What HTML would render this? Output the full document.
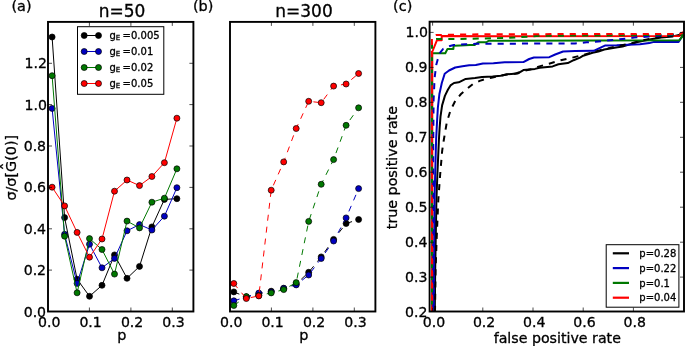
<!DOCTYPE html>
<html><head><meta charset="utf-8"><title>figure</title>
<style>html,body{margin:0;padding:0;background:#fff}svg{display:block}text{stroke:#000;stroke-width:0.3px}</style></head>
<body>
<svg width="685" height="346" viewBox="0 0 685 346" font-family='"DejaVu Sans","Liberation Sans",sans-serif' fill="#000">
<rect width="685" height="346" fill="#fff"/>
<clipPath id="ca"><rect x="48.0" y="21.9" width="145.4" height="289.6"/></clipPath>
<g clip-path="url(#ca)">
<polyline points="52.1,37.0 64.6,217.6 77.1,279.2 89.5,296.3 102.0,285.3 114.5,254.9 127.0,278.3 139.5,266.4 151.9,226.9 164.4,199.4 176.9,198.7" fill="none" stroke="#000000" stroke-width="1"/>
<circle cx="52.1" cy="37.0" r="3.0" fill="#000000" stroke="#000" stroke-width="0.7"/>
<circle cx="64.6" cy="217.6" r="3.0" fill="#000000" stroke="#000" stroke-width="0.7"/>
<circle cx="77.1" cy="279.2" r="3.0" fill="#000000" stroke="#000" stroke-width="0.7"/>
<circle cx="89.5" cy="296.3" r="3.0" fill="#000000" stroke="#000" stroke-width="0.7"/>
<circle cx="102.0" cy="285.3" r="3.0" fill="#000000" stroke="#000" stroke-width="0.7"/>
<circle cx="114.5" cy="254.9" r="3.0" fill="#000000" stroke="#000" stroke-width="0.7"/>
<circle cx="127.0" cy="278.3" r="3.0" fill="#000000" stroke="#000" stroke-width="0.7"/>
<circle cx="139.5" cy="266.4" r="3.0" fill="#000000" stroke="#000" stroke-width="0.7"/>
<circle cx="151.9" cy="226.9" r="3.0" fill="#000000" stroke="#000" stroke-width="0.7"/>
<circle cx="164.4" cy="199.4" r="3.0" fill="#000000" stroke="#000" stroke-width="0.7"/>
<circle cx="176.9" cy="198.7" r="3.0" fill="#000000" stroke="#000" stroke-width="0.7"/>
<polyline points="52.1,108.4 64.6,234.3 77.1,283.4 89.5,244.2 102.0,267.8 114.5,258.4 127.0,230.8 139.5,224.6 151.9,230.0 164.4,216.2 176.9,187.7" fill="none" stroke="#0000c0" stroke-width="1"/>
<circle cx="52.1" cy="108.4" r="3.0" fill="#0000c0" stroke="#000" stroke-width="0.7"/>
<circle cx="64.6" cy="234.3" r="3.0" fill="#0000c0" stroke="#000" stroke-width="0.7"/>
<circle cx="77.1" cy="283.4" r="3.0" fill="#0000c0" stroke="#000" stroke-width="0.7"/>
<circle cx="89.5" cy="244.2" r="3.0" fill="#0000c0" stroke="#000" stroke-width="0.7"/>
<circle cx="102.0" cy="267.8" r="3.0" fill="#0000c0" stroke="#000" stroke-width="0.7"/>
<circle cx="114.5" cy="258.4" r="3.0" fill="#0000c0" stroke="#000" stroke-width="0.7"/>
<circle cx="127.0" cy="230.8" r="3.0" fill="#0000c0" stroke="#000" stroke-width="0.7"/>
<circle cx="139.5" cy="224.6" r="3.0" fill="#0000c0" stroke="#000" stroke-width="0.7"/>
<circle cx="151.9" cy="230.0" r="3.0" fill="#0000c0" stroke="#000" stroke-width="0.7"/>
<circle cx="164.4" cy="216.2" r="3.0" fill="#0000c0" stroke="#000" stroke-width="0.7"/>
<circle cx="176.9" cy="187.7" r="3.0" fill="#0000c0" stroke="#000" stroke-width="0.7"/>
<polyline points="52.1,75.7 64.6,236.2 77.1,292.8 89.5,238.6 102.0,249.5 114.5,274.1 127.0,221.1 139.5,227.9 151.9,202.2 164.4,198.2 176.9,168.8" fill="none" stroke="#007800" stroke-width="1"/>
<circle cx="52.1" cy="75.7" r="3.0" fill="#007800" stroke="#000" stroke-width="0.7"/>
<circle cx="64.6" cy="236.2" r="3.0" fill="#007800" stroke="#000" stroke-width="0.7"/>
<circle cx="77.1" cy="292.8" r="3.0" fill="#007800" stroke="#000" stroke-width="0.7"/>
<circle cx="89.5" cy="238.6" r="3.0" fill="#007800" stroke="#000" stroke-width="0.7"/>
<circle cx="102.0" cy="249.5" r="3.0" fill="#007800" stroke="#000" stroke-width="0.7"/>
<circle cx="114.5" cy="274.1" r="3.0" fill="#007800" stroke="#000" stroke-width="0.7"/>
<circle cx="127.0" cy="221.1" r="3.0" fill="#007800" stroke="#000" stroke-width="0.7"/>
<circle cx="139.5" cy="227.9" r="3.0" fill="#007800" stroke="#000" stroke-width="0.7"/>
<circle cx="151.9" cy="202.2" r="3.0" fill="#007800" stroke="#000" stroke-width="0.7"/>
<circle cx="164.4" cy="198.2" r="3.0" fill="#007800" stroke="#000" stroke-width="0.7"/>
<circle cx="176.9" cy="168.8" r="3.0" fill="#007800" stroke="#000" stroke-width="0.7"/>
<polyline points="52.1,187.2 64.6,205.9 77.1,232.4 89.5,257.2 102.0,239.0 114.5,191.2 127.0,180.0 139.5,185.6 151.9,176.5 164.4,162.7 176.9,118.2" fill="none" stroke="#ff0000" stroke-width="1"/>
<circle cx="52.1" cy="187.2" r="3.0" fill="#ff0000" stroke="#000" stroke-width="0.7"/>
<circle cx="64.6" cy="205.9" r="3.0" fill="#ff0000" stroke="#000" stroke-width="0.7"/>
<circle cx="77.1" cy="232.4" r="3.0" fill="#ff0000" stroke="#000" stroke-width="0.7"/>
<circle cx="89.5" cy="257.2" r="3.0" fill="#ff0000" stroke="#000" stroke-width="0.7"/>
<circle cx="102.0" cy="239.0" r="3.0" fill="#ff0000" stroke="#000" stroke-width="0.7"/>
<circle cx="114.5" cy="191.2" r="3.0" fill="#ff0000" stroke="#000" stroke-width="0.7"/>
<circle cx="127.0" cy="180.0" r="3.0" fill="#ff0000" stroke="#000" stroke-width="0.7"/>
<circle cx="139.5" cy="185.6" r="3.0" fill="#ff0000" stroke="#000" stroke-width="0.7"/>
<circle cx="151.9" cy="176.5" r="3.0" fill="#ff0000" stroke="#000" stroke-width="0.7"/>
<circle cx="164.4" cy="162.7" r="3.0" fill="#ff0000" stroke="#000" stroke-width="0.7"/>
<circle cx="176.9" cy="118.2" r="3.0" fill="#ff0000" stroke="#000" stroke-width="0.7"/>
</g>
<path d="M89.4 311.5v-4.0M89.4 21.9v4.0" stroke="#000" stroke-width="0.7"/>
<path d="M130.9 311.5v-4.0M130.9 21.9v4.0" stroke="#000" stroke-width="0.7"/>
<path d="M172.3 311.5v-4.0M172.3 21.9v4.0" stroke="#000" stroke-width="0.7"/>
<path d="M48.0 270.1h4.0M193.4 270.1h-4.0" stroke="#000" stroke-width="0.7"/>
<path d="M48.0 228.8h4.0M193.4 228.8h-4.0" stroke="#000" stroke-width="0.7"/>
<path d="M48.0 187.4h4.0M193.4 187.4h-4.0" stroke="#000" stroke-width="0.7"/>
<path d="M48.0 146.0h4.0M193.4 146.0h-4.0" stroke="#000" stroke-width="0.7"/>
<path d="M48.0 104.6h4.0M193.4 104.6h-4.0" stroke="#000" stroke-width="0.7"/>
<path d="M48.0 63.3h4.0M193.4 63.3h-4.0" stroke="#000" stroke-width="0.7"/>
<rect x="48.0" y="21.9" width="145.4" height="289.6" fill="none" stroke="#000" stroke-width="1.9"/>
<text x="49.2" y="327.0" font-size="14.1" text-anchor="middle" >0.0</text>
<text x="90.6" y="327.0" font-size="14.1" text-anchor="middle" >0.1</text>
<text x="132.1" y="327.0" font-size="14.1" text-anchor="middle" >0.2</text>
<text x="173.5" y="327.0" font-size="14.1" text-anchor="middle" >0.3</text>
<text x="46.1" y="316.5" font-size="14.1" text-anchor="end" >0.0</text>
<text x="46.1" y="275.1" font-size="14.1" text-anchor="end" >0.2</text>
<text x="46.1" y="233.8" font-size="14.1" text-anchor="end" >0.4</text>
<text x="46.1" y="192.4" font-size="14.1" text-anchor="end" >0.6</text>
<text x="46.1" y="151.0" font-size="14.1" text-anchor="end" >0.8</text>
<text x="46.9" y="109.6" font-size="14.1" text-anchor="end" >1.0</text>
<text x="46.9" y="68.3" font-size="14.1" text-anchor="end" >1.2</text>
<text x="122.0" y="17.1" font-size="17" text-anchor="middle" >n=50</text>
<text x="121.7" y="340.1" font-size="14.4" text-anchor="middle" >p</text>
<text x="21.5" y="11.0" font-size="14.4" text-anchor="middle" >(a)</text>
<text transform="translate(16.0,167.7) rotate(-90)" font-size="14.4" text-anchor="middle">σ/σ[G<tspan dx="-9.77" dy="-3.4" font-size="16">ˆ</tspan><tspan dx="1.77" dy="3.4">(0)]</tspan></text>
<rect x="77.5" y="26.7" width="86.3" height="67.6" fill="#fff" stroke="#000" stroke-width="1"/>
<path d="M84.2 35.5H98.5" stroke="#000000" stroke-width="1"/>
<circle cx="84.2" cy="35.5" r="3.0" fill="#000000" stroke="#000" stroke-width="0.7"/>
<circle cx="98.5" cy="35.5" r="3.0" fill="#000000" stroke="#000" stroke-width="0.7"/>
<text x="109.5" y="38.8" font-size="10">g<tspan font-size="7" dy="1.4">E</tspan><tspan dy="-1.4" dx="2.3">=</tspan>0.005</text>
<path d="M84.2 51.5H98.5" stroke="#0000c0" stroke-width="1"/>
<circle cx="84.2" cy="51.5" r="3.0" fill="#0000c0" stroke="#000" stroke-width="0.7"/>
<circle cx="98.5" cy="51.5" r="3.0" fill="#0000c0" stroke="#000" stroke-width="0.7"/>
<text x="109.5" y="54.8" font-size="10">g<tspan font-size="7" dy="1.4">E</tspan><tspan dy="-1.4" dx="2.3">=</tspan>0.01</text>
<path d="M84.2 67.5H98.5" stroke="#007800" stroke-width="1"/>
<circle cx="84.2" cy="67.5" r="3.0" fill="#007800" stroke="#000" stroke-width="0.7"/>
<circle cx="98.5" cy="67.5" r="3.0" fill="#007800" stroke="#000" stroke-width="0.7"/>
<text x="109.5" y="70.8" font-size="10">g<tspan font-size="7" dy="1.4">E</tspan><tspan dy="-1.4" dx="2.3">=</tspan>0.02</text>
<path d="M84.2 83.5H98.5" stroke="#ff0000" stroke-width="1"/>
<circle cx="84.2" cy="83.5" r="3.0" fill="#ff0000" stroke="#000" stroke-width="0.7"/>
<circle cx="98.5" cy="83.5" r="3.0" fill="#ff0000" stroke="#000" stroke-width="0.7"/>
<text x="109.5" y="86.8" font-size="10">g<tspan font-size="7" dy="1.4">E</tspan><tspan dy="-1.4" dx="2.3">=</tspan>0.05</text>
<clipPath id="cb"><rect x="230.0" y="21.9" width="145.4" height="289.6"/></clipPath>
<g clip-path="url(#cb)">
<polyline points="233.8,291.9 246.3,297.0 258.8,294.0 271.2,291.2 283.7,288.5 296.2,284.0 308.7,272.3 321.2,256.9 333.6,239.4 346.1,223.5 358.6,219.5" fill="none" stroke="#000000" stroke-width="1" stroke-dasharray="6 6"/>
<circle cx="233.8" cy="291.9" r="3.0" fill="#000000" stroke="#000" stroke-width="0.7"/>
<circle cx="246.3" cy="297.0" r="3.0" fill="#000000" stroke="#000" stroke-width="0.7"/>
<circle cx="258.8" cy="294.0" r="3.0" fill="#000000" stroke="#000" stroke-width="0.7"/>
<circle cx="271.2" cy="291.2" r="3.0" fill="#000000" stroke="#000" stroke-width="0.7"/>
<circle cx="283.7" cy="288.5" r="3.0" fill="#000000" stroke="#000" stroke-width="0.7"/>
<circle cx="296.2" cy="284.0" r="3.0" fill="#000000" stroke="#000" stroke-width="0.7"/>
<circle cx="308.7" cy="272.3" r="3.0" fill="#000000" stroke="#000" stroke-width="0.7"/>
<circle cx="321.2" cy="256.9" r="3.0" fill="#000000" stroke="#000" stroke-width="0.7"/>
<circle cx="333.6" cy="239.4" r="3.0" fill="#000000" stroke="#000" stroke-width="0.7"/>
<circle cx="346.1" cy="223.5" r="3.0" fill="#000000" stroke="#000" stroke-width="0.7"/>
<circle cx="358.6" cy="219.5" r="3.0" fill="#000000" stroke="#000" stroke-width="0.7"/>
<polyline points="233.8,300.8 246.3,297.0 258.8,293.1 271.2,291.9 283.7,288.2 296.2,284.9 308.7,275.0 321.2,258.5 333.6,241.0 346.1,217.9 358.6,188.6" fill="none" stroke="#0000c0" stroke-width="1" stroke-dasharray="6 6"/>
<circle cx="233.8" cy="300.8" r="3.0" fill="#0000c0" stroke="#000" stroke-width="0.7"/>
<circle cx="246.3" cy="297.0" r="3.0" fill="#0000c0" stroke="#000" stroke-width="0.7"/>
<circle cx="258.8" cy="293.1" r="3.0" fill="#0000c0" stroke="#000" stroke-width="0.7"/>
<circle cx="271.2" cy="291.9" r="3.0" fill="#0000c0" stroke="#000" stroke-width="0.7"/>
<circle cx="283.7" cy="288.2" r="3.0" fill="#0000c0" stroke="#000" stroke-width="0.7"/>
<circle cx="296.2" cy="284.9" r="3.0" fill="#0000c0" stroke="#000" stroke-width="0.7"/>
<circle cx="308.7" cy="275.0" r="3.0" fill="#0000c0" stroke="#000" stroke-width="0.7"/>
<circle cx="321.2" cy="258.5" r="3.0" fill="#0000c0" stroke="#000" stroke-width="0.7"/>
<circle cx="333.6" cy="241.0" r="3.0" fill="#0000c0" stroke="#000" stroke-width="0.7"/>
<circle cx="346.1" cy="217.9" r="3.0" fill="#0000c0" stroke="#000" stroke-width="0.7"/>
<circle cx="358.6" cy="188.6" r="3.0" fill="#0000c0" stroke="#000" stroke-width="0.7"/>
<polyline points="233.8,305.5 246.3,296.6 258.8,295.5 271.2,292.9 283.7,289.6 296.2,282.6 308.7,221.4 321.2,184.3 333.6,159.6 346.1,125.3 358.6,107.8" fill="none" stroke="#007800" stroke-width="1" stroke-dasharray="6 6"/>
<circle cx="233.8" cy="305.5" r="3.0" fill="#007800" stroke="#000" stroke-width="0.7"/>
<circle cx="246.3" cy="296.6" r="3.0" fill="#007800" stroke="#000" stroke-width="0.7"/>
<circle cx="258.8" cy="295.5" r="3.0" fill="#007800" stroke="#000" stroke-width="0.7"/>
<circle cx="271.2" cy="292.9" r="3.0" fill="#007800" stroke="#000" stroke-width="0.7"/>
<circle cx="283.7" cy="289.6" r="3.0" fill="#007800" stroke="#000" stroke-width="0.7"/>
<circle cx="296.2" cy="282.6" r="3.0" fill="#007800" stroke="#000" stroke-width="0.7"/>
<circle cx="308.7" cy="221.4" r="3.0" fill="#007800" stroke="#000" stroke-width="0.7"/>
<circle cx="321.2" cy="184.3" r="3.0" fill="#007800" stroke="#000" stroke-width="0.7"/>
<circle cx="333.6" cy="159.6" r="3.0" fill="#007800" stroke="#000" stroke-width="0.7"/>
<circle cx="346.1" cy="125.3" r="3.0" fill="#007800" stroke="#000" stroke-width="0.7"/>
<circle cx="358.6" cy="107.8" r="3.0" fill="#007800" stroke="#000" stroke-width="0.7"/>
<polyline points="233.8,283.5 246.3,298.5 258.8,295.9 271.2,190.2 283.7,161.9 296.2,128.5 308.7,101.3 321.2,102.7 333.6,86.1 346.1,84.0 358.6,73.5" fill="none" stroke="#ff0000" stroke-width="1" stroke-dasharray="6 6"/>
<circle cx="233.8" cy="283.5" r="3.0" fill="#ff0000" stroke="#000" stroke-width="0.7"/>
<circle cx="246.3" cy="298.5" r="3.0" fill="#ff0000" stroke="#000" stroke-width="0.7"/>
<circle cx="258.8" cy="295.9" r="3.0" fill="#ff0000" stroke="#000" stroke-width="0.7"/>
<circle cx="271.2" cy="190.2" r="3.0" fill="#ff0000" stroke="#000" stroke-width="0.7"/>
<circle cx="283.7" cy="161.9" r="3.0" fill="#ff0000" stroke="#000" stroke-width="0.7"/>
<circle cx="296.2" cy="128.5" r="3.0" fill="#ff0000" stroke="#000" stroke-width="0.7"/>
<circle cx="308.7" cy="101.3" r="3.0" fill="#ff0000" stroke="#000" stroke-width="0.7"/>
<circle cx="321.2" cy="102.7" r="3.0" fill="#ff0000" stroke="#000" stroke-width="0.7"/>
<circle cx="333.6" cy="86.1" r="3.0" fill="#ff0000" stroke="#000" stroke-width="0.7"/>
<circle cx="346.1" cy="84.0" r="3.0" fill="#ff0000" stroke="#000" stroke-width="0.7"/>
<circle cx="358.6" cy="73.5" r="3.0" fill="#ff0000" stroke="#000" stroke-width="0.7"/>
</g>
<path d="M271.4 311.5v-4.0M271.4 21.9v4.0" stroke="#000" stroke-width="0.7"/>
<path d="M312.9 311.5v-4.0M312.9 21.9v4.0" stroke="#000" stroke-width="0.7"/>
<path d="M354.3 311.5v-4.0M354.3 21.9v4.0" stroke="#000" stroke-width="0.7"/>
<rect x="230.0" y="21.9" width="145.4" height="289.6" fill="none" stroke="#000" stroke-width="1.9"/>
<text x="231.2" y="327.0" font-size="14.1" text-anchor="middle" >0.0</text>
<text x="272.6" y="327.0" font-size="14.1" text-anchor="middle" >0.1</text>
<text x="314.1" y="327.0" font-size="14.1" text-anchor="middle" >0.2</text>
<text x="355.5" y="327.0" font-size="14.1" text-anchor="middle" >0.3</text>
<text x="304.0" y="17.1" font-size="17" text-anchor="middle" >n=300</text>
<text x="303.7" y="340.1" font-size="14.4" text-anchor="middle" >p</text>
<text x="203.2" y="11.0" font-size="14.4" text-anchor="middle" >(b)</text>
<clipPath id="cc"><rect x="429.6" y="21.7" width="255.39999999999998" height="289.8"/></clipPath>
<g clip-path="url(#cc)" fill="none" stroke-width="2.0" stroke-linejoin="round">
<polyline points="434.8,312.0 435.2,270.0 436.4,200.0 437.4,174.0 438.9,140.0 439.6,128.1 440.5,116.7 442.1,105.4 444.9,95.9 448.0,89.5 450.5,85.4 454.0,83.0 458.7,82.3 465.7,78.9 475.0,78.1 482.0,77.0 492.6,76.6 500.7,75.8 507.0,74.2 517.5,73.6 523.4,70.1 535.0,68.9 539.7,67.8 552.6,66.4 558.4,64.3 567.8,63.1 573.6,60.2 580.0,57.6 583.2,55.7 592.6,52.8 598.4,51.6 604.3,49.5 616.0,47.5 622.5,46.6 636.5,42.3 649.4,39.6 661.0,37.6 672.8,36.4 683.0,34.0" stroke="#000000"/>
<polyline points="433.8,312.0 434.0,270.0 434.5,200.0 436.1,140.0 437.0,122.4 437.9,107.3 439.4,94.0 441.8,83.0 444.7,73.7 449.0,70.5 455.2,67.5 462.5,66.2 469.2,65.3 475.8,65.0 482.9,63.4 493.4,63.2 504.7,62.3 523.4,62.1 529.2,59.0 533.9,57.5 549.3,57.2 555.2,54.5 563.1,51.5 575.0,51.0 593.7,50.8 598.4,48.7 605.4,45.4 616.7,45.3 640.0,44.3 649.4,43.1 654.0,41.9 678.6,41.9 683.0,35.0" stroke="#0000c0"/>
<polyline points="432.1,312.0 432.1,53.3 445.3,53.3 447.5,48.9 453.4,48.9 453.6,45.7 460.3,45.5 470.0,45.0 474.7,45.0 478.2,42.3 486.4,42.3 488.7,40.7 600.0,40.6 679.2,40.3 684.0,34.5" stroke="#007800"/>
<polyline points="432.2,312.0 432.2,52.0 433.0,50.0 437.0,40.2 441.7,40.2 441.7,36.1 500.0,36.3 679.2,36.1 683.5,32.8" stroke="#ff0000"/>
<polyline points="435.0,312.0 435.6,270.0 436.6,240.0 438.3,200.0 440.2,174.0 442.2,150.6 443.8,140.0 446.8,122.4 450.6,110.1 455.4,100.6 461.0,94.0 469.2,87.1 472.7,84.2 479.7,80.9 484.4,79.3 491.4,77.8 498.4,76.0 507.0,74.6 514.8,73.7 523.0,71.2 531.0,69.2 538.6,66.6 549.0,63.7 560.7,60.2 572.4,57.6 583.0,55.0 593.0,52.2 604.0,49.2 616.0,46.6 631.0,43.4 643.0,40.2 655.0,37.8 666.0,36.4 676.0,35.6 683.0,34.0" stroke="#000000" stroke-dasharray="6.09 6.09" stroke-dashoffset="12.09"/>
<polyline points="433.2,312.0 433.2,150.0 433.6,100.0 434.6,78.0 436.2,65.0 437.7,59.5 439.5,53.3 443.2,48.9 450.0,45.9 453.7,45.1 465.4,44.3 476.0,43.8 500.0,43.7 575.0,43.4 586.7,42.3 598.4,41.4 610.0,40.3 622.5,39.0 634.2,37.6 645.9,36.7 657.6,35.7 670.4,35.2 683.0,33.0" stroke="#0000c0" stroke-dasharray="6.09 6.09" stroke-dashoffset="8.66"/>
<polyline points="432.0,312.0 432.0,42.0 433.0,40.0 436.2,39.1 470.0,38.8 510.0,37.8 540.0,35.8 620.0,35.3 683.0,34.5" stroke="#007800" stroke-dasharray="6.09 6.09" stroke-dashoffset="4.66"/>
<polyline points="432.0,312.0 431.9,38.0 433.0,36.0 436.2,35.0 470.0,34.4 555.0,34.1 680.0,34.0 683.5,32.2" stroke="#ff0000" stroke-dasharray="6.09 6.09" stroke-dashoffset="0.98"/>
</g>
<path d="M432.6 311.5v-4.0M432.6 21.7v4.0" stroke="#000" stroke-width="0.7"/>
<path d="M482.8 311.5v-4.0M482.8 21.7v4.0" stroke="#000" stroke-width="0.7"/>
<path d="M533.0 311.5v-4.0M533.0 21.7v4.0" stroke="#000" stroke-width="0.7"/>
<path d="M583.2 311.5v-4.0M583.2 21.7v4.0" stroke="#000" stroke-width="0.7"/>
<path d="M633.4 311.5v-4.0M633.4 21.7v4.0" stroke="#000" stroke-width="0.7"/>
<path d="M429.6 277.1h4.0M684.0 277.1h-4.0" stroke="#000" stroke-width="0.7"/>
<path d="M429.6 242.2h4.0M684.0 242.2h-4.0" stroke="#000" stroke-width="0.7"/>
<path d="M429.6 207.2h4.0M684.0 207.2h-4.0" stroke="#000" stroke-width="0.7"/>
<path d="M429.6 172.2h4.0M684.0 172.2h-4.0" stroke="#000" stroke-width="0.7"/>
<path d="M429.6 137.3h4.0M684.0 137.3h-4.0" stroke="#000" stroke-width="0.7"/>
<path d="M429.6 102.3h4.0M684.0 102.3h-4.0" stroke="#000" stroke-width="0.7"/>
<path d="M429.6 67.4h4.0M684.0 67.4h-4.0" stroke="#000" stroke-width="0.7"/>
<path d="M429.6 32.4h4.0M684.0 32.4h-4.0" stroke="#000" stroke-width="0.7"/>
<rect x="429.6" y="21.7" width="254.4" height="289.8" fill="none" stroke="#000" stroke-width="1.9"/>
<text x="433.9" y="327.0" font-size="14.1" text-anchor="middle" >0.0</text>
<text x="484.1" y="327.0" font-size="14.1" text-anchor="middle" >0.2</text>
<text x="534.3" y="327.0" font-size="14.1" text-anchor="middle" >0.4</text>
<text x="584.5" y="327.0" font-size="14.1" text-anchor="middle" >0.6</text>
<text x="634.7" y="327.0" font-size="14.1" text-anchor="middle" >0.8</text>
<text x="427.4" y="317.1" font-size="14.1" text-anchor="end" >0.2</text>
<text x="427.4" y="282.1" font-size="14.1" text-anchor="end" >0.3</text>
<text x="427.4" y="247.2" font-size="14.1" text-anchor="end" >0.4</text>
<text x="427.4" y="212.2" font-size="14.1" text-anchor="end" >0.5</text>
<text x="427.4" y="177.2" font-size="14.1" text-anchor="end" >0.6</text>
<text x="427.4" y="142.3" font-size="14.1" text-anchor="end" >0.7</text>
<text x="427.4" y="107.3" font-size="14.1" text-anchor="end" >0.8</text>
<text x="427.4" y="72.4" font-size="14.1" text-anchor="end" >0.9</text>
<text x="428.0" y="37.4" font-size="14.1" text-anchor="end" >1.0</text>
<text x="557.3" y="343.0" font-size="14.2" text-anchor="middle" >false positive rate</text>
<text x="402.7" y="11.0" font-size="14.4" text-anchor="middle" >(c)</text>
<text transform="translate(397,167.6) rotate(-90)" font-size="14.25" text-anchor="middle">true positive rate</text>
<rect x="606.2" y="244.7" width="72.7" height="62.5" fill="#fff" stroke="#000" stroke-width="1"/>
<path d="M612.8 253.3H629" stroke="#000000" stroke-width="2.2"/>
<text x="639.3" y="256.9" font-size="10">p=0.28</text>
<path d="M612.8 268.1H629" stroke="#0000c0" stroke-width="2.2"/>
<text x="639.3" y="271.7" font-size="10">p=0.22</text>
<path d="M612.8 282.9H629" stroke="#007800" stroke-width="2.2"/>
<text x="639.3" y="286.5" font-size="10">p=0.1</text>
<path d="M612.8 297.7H629" stroke="#ff0000" stroke-width="2.2"/>
<text x="639.3" y="301.3" font-size="10">p=0.04</text>
</svg>
</body></html>
